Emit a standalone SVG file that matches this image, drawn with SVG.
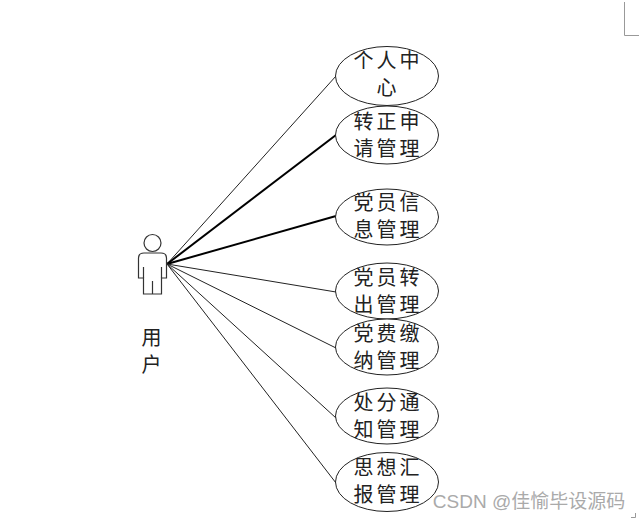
<svg xmlns="http://www.w3.org/2000/svg" width="639" height="521" viewBox="0 0 639 521">
<style>
text{font-family:"Noto Sans CJK SC","Liberation Serif",serif;font-size:20px;letter-spacing:3px;fill:#222;text-anchor:middle}
.e{fill:#fff;stroke:#222;stroke-width:1}
.c{stroke:#222;stroke-width:1;fill:none}
.b{stroke:#000;stroke-width:2;fill:none}
.a{fill:#fff;stroke:#333;stroke-width:1.2}
.m{stroke:#999;stroke-width:1;fill:none}
.w{font-size:19px;letter-spacing:0;fill:#aaa;font-family:"Liberation Sans","Noto Sans CJK SC",sans-serif}
</style>
<rect width="639" height="521" fill="#fff"/>
<path class="m" d="M624.500 2V35.500H639"/>
<path class="m" d="M631 517.500H635.500V513"/>
<g id="connectors">
<path class="c" d="M167 264L336 76"/>
<path class="b" d="M167 264L336 135"/>
<path class="b" d="M167 264L336 216"/>
<path class="c" d="M167 264L336 292"/>
<path class="c" d="M167 264L336 348"/>
<path class="c" d="M167 264L336 418"/>
<path class="c" d="M167 264L336 483"/>
</g>
<g id="actor">
<circle class="a" cx="152.500" cy="243" r="8.500"/>
<path class="a" d="M144 253H161Q166.500 253 166.500 258V278H161.500V294H143.500V278H138.500V258Q138.500 253 144 253Z"/>
<path class="a" d="M143.500 267V278M161.500 267V278M152.500 281V294"/>
<text x="153" y="345">用</text>
<text x="153" y="372">户</text>
</g>
<g id="n1"><ellipse class="e" cx="387" cy="76" rx="51.500" ry="29.500"/><text x="388" y="68">个人中</text><text x="388" y="95">心</text></g>
<g id="n2"><ellipse class="e" cx="387" cy="135" rx="51.500" ry="29"/><text x="388" y="129">转正申</text><text x="388" y="156">请管理</text></g>
<g id="n3"><ellipse class="e" cx="387" cy="217" rx="51.500" ry="28"/><text x="388" y="210">党员信</text><text x="388" y="237">息管理</text></g>
<g id="n4"><ellipse class="e" cx="387" cy="291" rx="51.500" ry="28"/><text x="388" y="285">党员转</text><text x="388" y="312">出管理</text></g>
<g id="n5"><ellipse class="e" cx="387" cy="347" rx="51.500" ry="28"/><text x="388" y="341">党费缴</text><text x="388" y="368">纳管理</text></g>
<g id="n6"><ellipse class="e" cx="387" cy="416" rx="51.500" ry="28"/><text x="388" y="410">处分通</text><text x="388" y="437">知管理</text></g>
<g id="n7"><ellipse class="e" cx="387" cy="482" rx="51.500" ry="29.500"/><text x="388" y="475">思想汇</text><text x="388" y="502">报管理</text></g>
<text class="w" x="529" y="508">CSDN @佳愉毕设源码</text>
</svg>
